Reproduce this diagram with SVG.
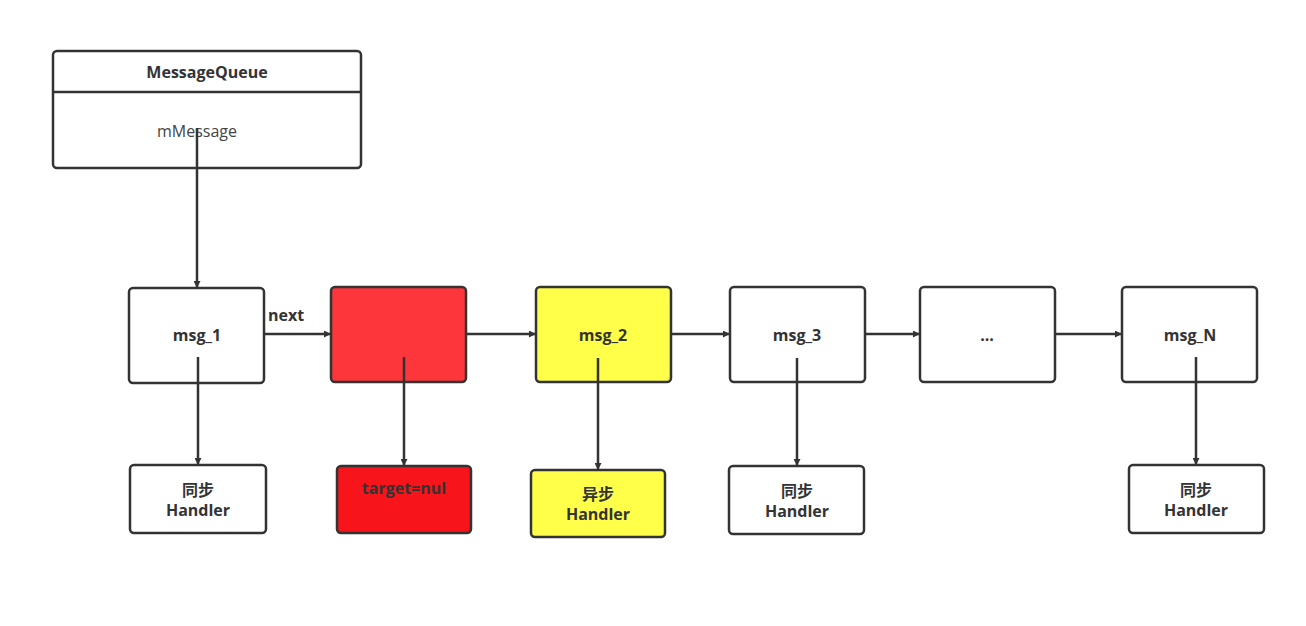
<svg xmlns="http://www.w3.org/2000/svg" width="1306" height="626" viewBox="0 0 1306 626">
<style>
.b{stroke:#333;stroke-width:2.5}
.t{font-family:"Open Sans","Noto Sans CJK SC",sans-serif;font-weight:bold;font-size:16px;fill:#333;text-anchor:middle}
.c{stroke:#333;stroke-width:2.5;fill:none;marker-end:url(#a)}
</style>
<defs><marker id="a" viewBox="0 0 10 10" refX="10" refY="5" markerWidth="7" markerHeight="7" markerUnits="userSpaceOnUse" orient="auto"><path d="M0,0L10,5L0,10z" fill="#333"/></marker></defs>
<defs><marker id="m" viewBox="0 0 10 10" refX="10" refY="5" markerWidth="8" markerHeight="8" orient="auto"/></defs>
<rect width="1306" height="626" fill="#fff"/>
<g id="mq"><rect class="b" x="53" y="51" width="308" height="117" rx="4" fill="#fff"/><line class="b" x1="53" y1="92" x2="361" y2="92"/><text class="t" x="207" y="78">MessageQueue</text><text x="197" y="137" font-family="'Open Sans',sans-serif" font-size="16" fill="#444" text-anchor="middle">mMessage</text></g>
<g id="msg1"><rect class="b" x="129" y="288" width="135" height="95" rx="4" fill="#fff"/><text class="t" x="197" y="341">msg_1</text></g>
<g id="barrier"><rect class="b" x="331" y="287" width="135" height="95" rx="4" fill="#fd363c"/></g>
<g id="msg2"><rect class="b" x="536" y="287" width="135" height="95" rx="4" fill="#ffff4a"/><text class="t" x="603" y="341">msg_2</text></g>
<g id="msg3"><rect class="b" x="730" y="287" width="135" height="95" rx="4" fill="#fff"/><text class="t" x="797" y="341">msg_3</text></g>
<g id="dots"><rect class="b" x="920" y="287" width="135" height="95" rx="4" fill="#fff"/><text class="t" x="987" y="341" font-weight="normal">...</text></g>
<g id="msgN"><rect class="b" x="1122" y="287" width="135" height="95" rx="4" fill="#fff"/><text class="t" x="1190" y="341">msg_N</text></g>
<g id="h1"><rect class="b" x="130" y="465" width="136" height="68" rx="4" fill="#fff"/><text class="t" x="198" y="496">同步</text><text class="t" x="198" y="516">Handler</text></g>
<g id="hnull"><rect class="b" x="337" y="466" width="134" height="67" rx="4" fill="#f7141a"/><text class="t" x="404" y="494">target=nul</text></g>
<g id="h2"><rect class="b" x="531" y="470" width="134" height="67" rx="4" fill="#ffff4a"/><text class="t" x="598" y="500">异步</text><text class="t" x="598" y="520">Handler</text></g>
<g id="h3"><rect class="b" x="729" y="466" width="135" height="68" rx="4" fill="#fff"/><text class="t" x="797" y="497">同步</text><text class="t" x="797" y="517">Handler</text></g>
<g id="hN"><rect class="b" x="1129" y="465" width="135" height="68" rx="4" fill="#fff"/><text class="t" x="1196" y="496">同步</text><text class="t" x="1196" y="516">Handler</text></g>
<g id="connectors">
<path class="c" d="M197,128V288"/>
<path class="c" d="M263,334H331"/><text class="t" x="286" y="321">next</text>
<path class="c" d="M466,334H536"/>
<path class="c" d="M671,334H730"/>
<path class="c" d="M865,334H920"/>
<path class="c" d="M1055,334H1122"/>
<path class="c" d="M198,357V465"/>
<path class="c" d="M404,357V466"/>
<path class="c" d="M598,358V470"/>
<path class="c" d="M797,358V466"/>
<path class="c" d="M1196,357V465"/>
</g>
</svg>
